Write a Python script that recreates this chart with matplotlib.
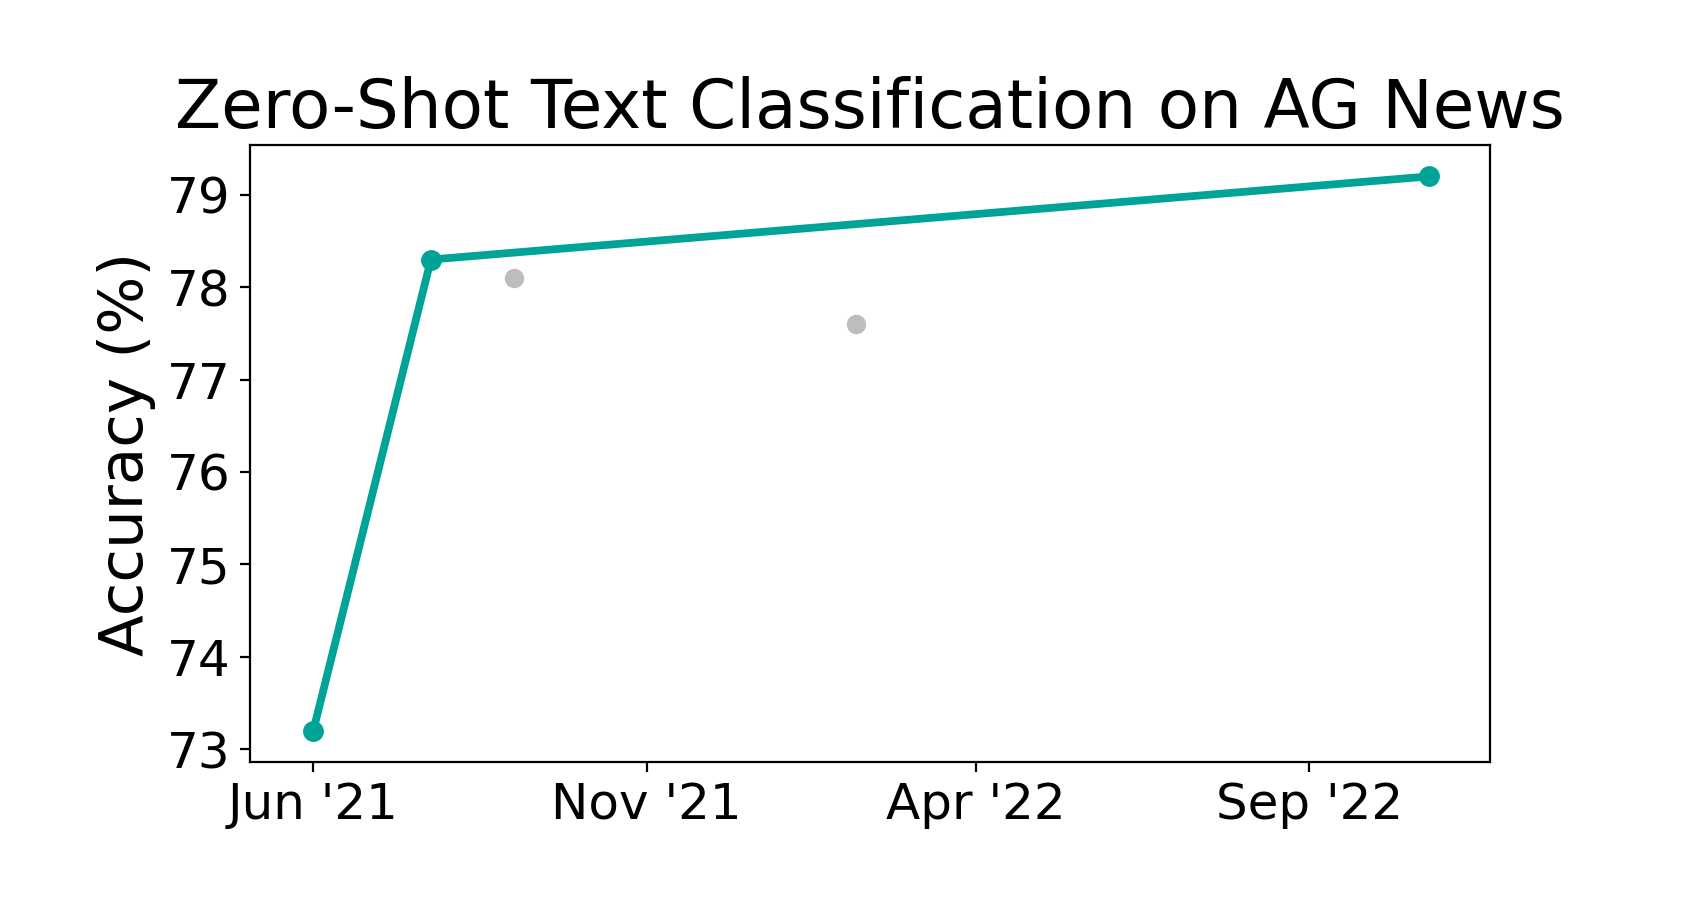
import datetime as dt
import matplotlib
matplotlib.use("Agg")
import matplotlib.pyplot as plt
import matplotlib.dates as mdates

# frontier (best so far) results
best_dates = [dt.date(2021, 6, 1), dt.date(2021, 7, 25), dt.date(2022, 10, 26)]
best_acc = [73.2, 78.3, 79.2]

# other submitted results
other_dates = [dt.date(2021, 9, 1), dt.date(2022, 2, 5)]
other_acc = [78.1, 77.6]

# x ticks, every 5 months
tick_dates = [dt.date(2021, 6, 1), dt.date(2021, 11, 1),
              dt.date(2022, 4, 1), dt.date(2022, 9, 1)]

title = "Zero-Shot Text Classification on AG News"
ylabel = "Accuracy (%)"

fig = plt.figure(figsize=(8.5, 4.5), dpi=200)
ax = fig.add_axes([0.1471, 0.1533, 0.7294, 0.6856])

ax.plot(other_dates, other_acc, "o", color="#bdbdbd", markersize=6, zorder=2)
ax.plot(best_dates, best_acc, "-o", color="#00a497", linewidth=2.8,
        markersize=6.5, zorder=3)

ax.set_xlim(dt.date(2021, 5, 3), dt.date(2022, 11, 23))
ax.set_ylim(72.86, 79.54)

ax.set_xticks(tick_dates)
ax.xaxis.set_major_formatter(mdates.DateFormatter("%b '%y"))
ax.set_yticks([73, 74, 75, 76, 77, 78, 79])
ax.tick_params(labelsize=18)

ax.set_ylabel(ylabel, fontsize=22)
ax.set_title(title, fontsize=24.3)

fig.savefig("out.png", dpi=200)
